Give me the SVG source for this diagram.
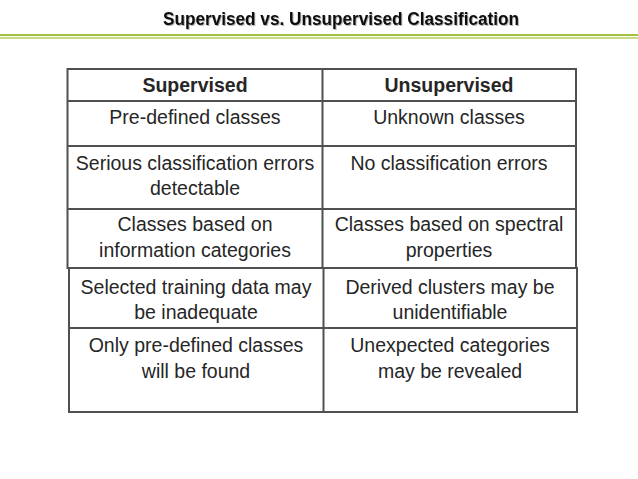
<svg xmlns="http://www.w3.org/2000/svg" width="638" height="479" viewBox="0 0 638 479">
  <style>
    .title { font-family: "Liberation Sans", Arial, sans-serif; font-weight: bold; font-size: 18px; fill: #111; }
    .cell { font-family: "Liberation Sans", Arial, sans-serif; font-size: 19.5px; fill: #262626; text-anchor: middle; }
    .head { font-weight: bold; }
    .grid { fill: none; stroke: #505050; stroke-width: 2; }
    .rule1 { stroke: #a3c23f; stroke-width: 2; }
    .rule2 { stroke: #b6d05a; stroke-width: 1.5; }
  </style>
  <defs>
    <filter id="shadow" x="-5%" y="-30%" width="110%" height="160%">
      <feDropShadow dx="1" dy="1" stdDeviation="0.6" flood-color="#000" flood-opacity="0.3"/>
    </filter>
  </defs>
  <rect x="0" y="0" width="638" height="479" fill="#ffffff"/>

  <g id="title">
    <text class="title" x="163" y="24.5" textLength="356" lengthAdjust="spacingAndGlyphs" filter="url(#shadow)">Supervised vs. Unsupervised Classification</text>
  </g>
  <g id="rules">
    <line class="rule1" x1="0" y1="35" x2="638" y2="35"/>
    <line class="rule2" x1="0" y1="38" x2="638" y2="38"/>
  </g>

  <g id="table-lines">
    <rect class="grid" x="67.5" y="69" width="508.5" height="199"/>
    <line class="grid" x1="322.5" y1="69" x2="322.5" y2="268"/>
    <line class="grid" x1="67.5" y1="101" x2="576" y2="101"/>
    <line class="grid" x1="67.5" y1="146" x2="576" y2="146"/>
    <line class="grid" x1="67.5" y1="209" x2="576" y2="209"/>
    <rect class="grid" x="69" y="268" width="508" height="144"/>
    <line class="grid" x1="323.5" y1="268" x2="323.5" y2="412"/>
    <line class="grid" x1="69" y1="328" x2="577" y2="328"/>
  </g>

  <g id="header-supervised">
    <text class="cell head" x="195" y="92">Supervised</text>
  </g>
  <g id="header-unsupervised">
    <text class="cell head" x="449" y="92">Unsupervised</text>
  </g>

  <g id="row1-supervised">
    <text class="cell" x="195" y="124">Pre-defined classes</text>
  </g>
  <g id="row1-unsupervised">
    <text class="cell" x="449" y="124">Unknown classes</text>
  </g>

  <g id="row2-supervised">
    <text class="cell" x="195" y="170">Serious classification errors</text>
    <text class="cell" x="195" y="195">detectable</text>
  </g>
  <g id="row2-unsupervised">
    <text class="cell" x="449" y="170">No classification errors</text>
  </g>

  <g id="row3-supervised">
    <text class="cell" x="195" y="231">Classes based on</text>
    <text class="cell" x="195" y="257">information categories</text>
  </g>
  <g id="row3-unsupervised">
    <text class="cell" x="449" y="231">Classes based on spectral</text>
    <text class="cell" x="449" y="257">properties</text>
  </g>

  <g id="row4-supervised">
    <text class="cell" x="196" y="294">Selected training data may</text>
    <text class="cell" x="196" y="319">be inadequate</text>
  </g>
  <g id="row4-unsupervised">
    <text class="cell" x="450" y="294">Derived clusters may be</text>
    <text class="cell" x="450" y="319">unidentifiable</text>
  </g>

  <g id="row5-supervised">
    <text class="cell" x="196" y="352">Only pre-defined classes</text>
    <text class="cell" x="196" y="378">will be found</text>
  </g>
  <g id="row5-unsupervised">
    <text class="cell" x="450" y="352">Unexpected categories</text>
    <text class="cell" x="450" y="378">may be revealed</text>
  </g>
</svg>
